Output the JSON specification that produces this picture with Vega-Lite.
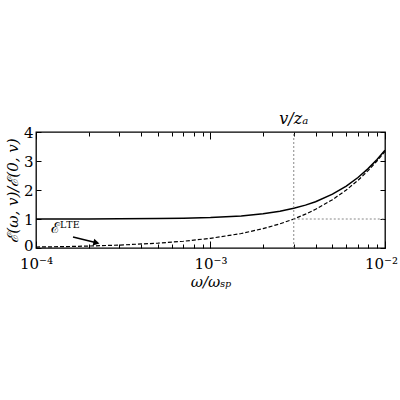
{
 "$schema": "https://vega.github.io/schema/vega-lite/v6.json",
 "width": 349, "height": 116,
 "autosize": {"type": "none"},
 "padding": {"left": 36, "top": 132, "right": 15, "bottom": 152},
 "background": "white",
 "config": {
  "view": {"stroke": "black", "strokeWidth": 1.3},
  "font": "DejaVu Serif",
  "axis": {"domain": false, "grid": false, "tickColor": "black", "labelColor": "black", "titleColor": "black",
           "labelFont": "DejaVu Serif", "titleFont": "DejaVu Serif", "labelFontSize": 15, "titleFontSize": 15, "titleFontWeight": "normal"}
 },
 "datasets": {
  "curve": [
   {"w": 0.0001, "s": 1.0005, "d": 0.0333},
   {"w": 0.00015, "s": 1.0012, "d": 0.05},
   {"w": 0.0002, "s": 1.0022, "d": 0.0667},
   {"w": 0.0003, "s": 1.0048, "d": 0.1},
   {"w": 0.0005, "s": 1.0132, "d": 0.1667},
   {"w": 0.0007, "s": 1.0252, "d": 0.2333},
   {"w": 0.001, "s": 1.0498, "d": 0.3333},
   {"w": 0.0015, "s": 1.1065, "d": 0.5},
   {"w": 0.002, "s": 1.1801, "d": 0.6667},
   {"w": 0.0025, "s": 1.2679, "d": 0.8333},
   {"w": 0.003, "s": 1.3679, "d": 1.0},
   {"w": 0.0035, "s": 1.4781, "d": 1.1667},
   {"w": 0.004, "s": 1.5969, "d": 1.3333},
   {"w": 0.005, "s": 1.8556, "d": 1.6667},
   {"w": 0.006, "s": 2.1353, "d": 2.0},
   {"w": 0.007, "s": 2.4303, "d": 2.3333},
   {"w": 0.008, "s": 2.7362, "d": 2.6667},
   {"w": 0.009, "s": 3.0498, "d": 3.0},
   {"w": 0.01, "s": 3.369, "d": 3.3333}
  ],
  "vline": [{"w": 0.003, "y0": 0, "y1": 4}],
  "hline": [{"w0": 0.003, "w1": 0.01, "y": 1}],
  "toplabel": [{"w": 0.003, "y": 4, "label": "v/zₐ"}],
  "lte": [{"w": 0.000122, "y": 0.42, "label": "ℰᴸᵀᴱ"}],
  "arrow": [{"w0": 0.000163, "y0": 0.38, "w1": 0.000222, "y1": 0.18}]
 },
 "layer": [
  {
   "data": {"name": "curve"},
   "mark": {"type": "line", "color": "black", "strokeWidth": 1.5},
   "encoding": {
    "x": {"field": "w", "type": "quantitative",
          "scale": {"type": "log", "domain": [0.0001, 0.01], "nice": false},
          "axis": {"orient": "bottom", "labelOverlap": false,
                   "values": [0.0001,0.0002,0.0003,0.0004,0.0005,0.0006,0.0007,0.0008,0.0009,0.001,0.002,0.003,0.004,0.005,0.006,0.007,0.008,0.009,0.01],
                   "tickSize": {"condition": {"test": "abs(log(datum.value)/LN10 - round(log(datum.value)/LN10)) < 0.001", "value": -7}, "value": -4},
                   "labelExpr": "abs(log(datum.value)/LN10 + 4) < 0.001 ? '10⁻⁴' : abs(log(datum.value)/LN10 + 3) < 0.001 ? '10⁻³' : abs(log(datum.value)/LN10 + 2) < 0.001 ? '10⁻²' : ''",
                   "labelOffset": {"condition": {"test": "datum.value > 0.0095", "value": -4}, "value": 0},
                   "labelPadding": 15, "labelFlush": false,
                   "title": "ω/ωₛₚ", "titleFontStyle": "italic", "titlePadding": 0}},
    "y": {"field": "s", "type": "quantitative",
          "scale": {"domain": [0, 4], "nice": false},
          "axis": {"values": [0,1,2,3,4], "tickSize": -5, "labelOverlap": false, "labelPadding": 8,
                   "labelOffset": {"condition": {"test": "datum.value < 0.5", "value": -3}, "value": 0},
                   "title": "ℰ(ω, v)/ℰ(0, v)", "titleFontStyle": "italic", "titlePadding": 3}}
   }
  },
  {
   "data": {"name": "curve"},
   "mark": {"type": "line", "opacity": 0},
   "encoding": {
    "x": {"field": "w", "type": "quantitative",
          "scale": {"type": "log", "domain": [0.0001, 0.01], "nice": false},
          "axis": {"orient": "top", "labels": false, "title": null,
                   "values": [0.0001,0.0002,0.0003,0.0004,0.0005,0.0006,0.0007,0.0008,0.0009,0.001,0.002,0.003,0.004,0.005,0.006,0.007,0.008,0.009,0.01],
                   "tickSize": {"condition": {"test": "abs(log(datum.value)/LN10 - round(log(datum.value)/LN10)) < 0.001", "value": -7}, "value": -4}}},
    "y": {"field": "s", "type": "quantitative",
          "scale": {"domain": [0, 4], "nice": false},
          "axis": {"orient": "right", "labels": false, "title": null, "values": [0,1,2,3,4], "tickSize": -5}}
   }
  },
  {
   "data": {"name": "curve"},
   "mark": {"type": "line", "color": "black", "strokeWidth": 1.2, "strokeDash": [4, 2]},
   "encoding": {
    "x": {"field": "w", "type": "quantitative", "axis": null},
    "y": {"field": "d", "type": "quantitative", "axis": null}
   }
  },
  {
   "data": {"name": "vline"},
   "mark": {"type": "rule", "color": "#888888", "strokeWidth": 1, "strokeDash": [2, 2]},
   "encoding": {
    "x": {"field": "w", "type": "quantitative", "axis": null},
    "y": {"field": "y0", "type": "quantitative", "axis": null},
    "y2": {"field": "y1"}
   }
  },
  {
   "data": {"name": "hline"},
   "mark": {"type": "rule", "color": "#888888", "strokeWidth": 1, "strokeDash": [2, 2]},
   "encoding": {
    "x": {"field": "w0", "type": "quantitative", "axis": null},
    "x2": {"field": "w1"},
    "y": {"field": "y", "type": "quantitative", "axis": null}
   }
  },
  {
   "data": {"name": "toplabel"},
   "mark": {"type": "text", "dy": -13, "fontSize": 16, "fontStyle": "italic", "color": "black"},
   "encoding": {
    "x": {"field": "w", "type": "quantitative", "axis": null},
    "y": {"field": "y", "type": "quantitative", "axis": null},
    "text": {"field": "label"}
   }
  },
  {
   "data": {"name": "lte"},
   "mark": {"type": "text", "align": "left", "baseline": "bottom", "fontSize": 15, "color": "black"},
   "encoding": {
    "x": {"field": "w", "type": "quantitative", "axis": null},
    "y": {"field": "y", "type": "quantitative", "axis": null},
    "text": {"field": "label"}
   }
  },
  {
   "data": {"name": "arrow"},
   "mark": {"type": "rule", "color": "black", "strokeWidth": 1.5},
   "encoding": {
    "x": {"field": "w0", "type": "quantitative", "axis": null},
    "x2": {"field": "w1"},
    "y": {"field": "y0", "type": "quantitative", "axis": null},
    "y2": {"field": "y1"}
   }
  },
  {
   "data": {"name": "arrow"},
   "mark": {"type": "point", "shape": "triangle-right", "filled": true, "color": "black", "size": 50, "angle": 13, "opacity": 1},
   "encoding": {
    "x": {"field": "w1", "type": "quantitative", "axis": null},
    "y": {"field": "y1", "type": "quantitative", "axis": null}
   }
  }
 ],
 "resolve": {"axis": {"x": "independent", "y": "independent"}}
}
